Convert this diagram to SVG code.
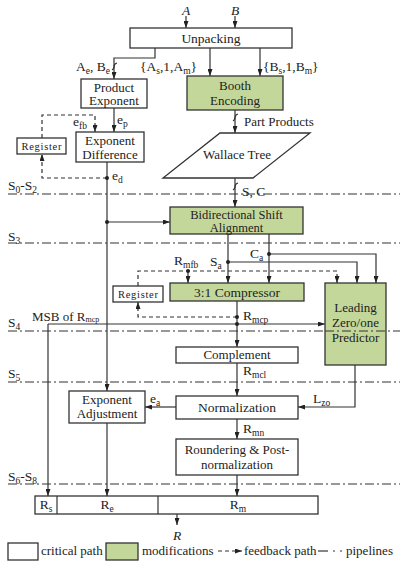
<svg xmlns="http://www.w3.org/2000/svg" width="400" height="570" viewBox="0 0 400 570">
<style>
text{font-family:"Liberation Serif","Times New Roman",serif;font-size:13px;fill:#222}
.c{text-anchor:middle}
.it{font-style:italic}
.sm{font-size:10.5px}
.sub{font-size:9.5px}
.box{fill:#fff;stroke:#333;stroke-width:1.3}
.g{fill:#c4d79b;stroke:#333;stroke-width:1.3}
.ln{fill:none;stroke:#333;stroke-width:1.2}
.ds{fill:none;stroke:#333;stroke-width:1.2;stroke-dasharray:4 3}
.pp{fill:none;stroke:#333;stroke-width:1.1;stroke-dasharray:9 3 2 3}
.dot{fill:#222}
</style>
<defs>
<marker id="ar" viewBox="0 0 7 5" refX="7" refY="2.5" markerWidth="7" markerHeight="5" markerUnits="userSpaceOnUse" orient="auto">
<path d="M0,0 L7,2.5 L0,5 Z" fill="#222"/>
</marker>
</defs>

<g id="pipelines">
<line class="pp" x1="8" y1="194" x2="400" y2="194"/>
<line class="pp" x1="8" y1="243" x2="400" y2="243"/>
<line class="pp" x1="8" y1="382" x2="400" y2="382"/>
<line class="pp" x1="8" y1="484" x2="400" y2="484"/>
<text x="8" y="190" style="font-size:13.5px">S<tspan class="sub" dy="3">0</tspan><tspan dy="-3">-S</tspan><tspan class="sub" dy="3">2</tspan></text>
<text x="8" y="241" style="font-size:13.5px">S<tspan class="sub" dy="3">3</tspan></text>
<text x="8" y="327" style="font-size:13.5px">S<tspan class="sub" dy="3">4</tspan></text>
<text x="8" y="378" style="font-size:13.5px">S<tspan class="sub" dy="3">5</tspan></text>
<text x="8" y="481" style="font-size:13.5px">S<tspan class="sub" dy="3">6</tspan><tspan dy="-3">-S</tspan><tspan class="sub" dy="3">8</tspan></text>
</g>

<g id="connectors">
<line class="ln" x1="186" y1="16" x2="186" y2="28" marker-end="url(#ar)"/>
<line class="ln" x1="235" y1="16" x2="235" y2="28" marker-end="url(#ar)"/>
<polyline class="ln" points="155,48 155,58 114,58 114,79" marker-end="url(#ar)"/>
<line class="ln" x1="210" y1="48" x2="210" y2="76" marker-end="url(#ar)"/>
<line class="ln" x1="260" y1="48" x2="260" y2="76" marker-end="url(#ar)"/>
<line class="ln" x1="114" y1="108" x2="114" y2="132" marker-end="url(#ar)"/>
<polyline class="ds" points="42,138 42,115 95,115 95,132" marker-end="url(#ar)"/>
<line class="ln" x1="107" y1="162" x2="107" y2="391" marker-end="url(#ar)"/>
<polyline class="ds" points="107,178 42,178 42,154" marker-end="url(#ar)"/>
<line class="ln" x1="235" y1="110" x2="235" y2="133" marker-end="url(#ar)"/>
<line class="ln" x1="235" y1="178" x2="235" y2="207" marker-end="url(#ar)"/>
<line class="ln" x1="107" y1="222" x2="170" y2="222" marker-end="url(#ar)"/>
<line class="ln" x1="228" y1="234" x2="228" y2="283" marker-end="url(#ar)"/>
<line class="ln" x1="269" y1="234" x2="269" y2="283" marker-end="url(#ar)"/>
<polyline class="ln" points="228,262 357,262 357,283" marker-end="url(#ar)"/>
<polyline class="ln" points="269,254 376,254 376,283" marker-end="url(#ar)"/>
<polyline class="ds" points="138,286 138,271 337,271 337,283" marker-end="url(#ar)"/>
<line class="ln" x1="188" y1="271" x2="188" y2="283" marker-end="url(#ar)"/>
<line class="ln" x1="237" y1="301" x2="237" y2="347" marker-end="url(#ar)"/>
<polyline class="ds" points="237,317 138,317 138,302" marker-end="url(#ar)"/>
<line class="ln" x1="48" y1="324" x2="325" y2="324" marker-end="url(#ar)"/>
<line class="ln" x1="48" y1="324" x2="48" y2="496" marker-end="url(#ar)"/>
<line class="ln" x1="237" y1="363" x2="237" y2="396" marker-end="url(#ar)"/>
<line class="ln" x1="176" y1="407" x2="145" y2="407" marker-end="url(#ar)"/>
<polyline class="ln" points="355,365 355,407 298,407" marker-end="url(#ar)"/>
<line class="ln" x1="237" y1="419" x2="237" y2="439" marker-end="url(#ar)"/>
<line class="ln" x1="237" y1="475" x2="237" y2="496" marker-end="url(#ar)"/>
<line class="ln" x1="107" y1="423" x2="107" y2="496" marker-end="url(#ar)"/>
<line class="ln" x1="177" y1="514" x2="177" y2="525" marker-end="url(#ar)"/>
<path class="ln" d="M117,63 C112,64 116,68 112,70"/>
<path class="ln" d="M238,114 C233,115 237,119 233,121"/>
<path class="ln" d="M238,183 C233,184 237,188 233,190"/>
<circle class="dot" cx="107" cy="178" r="2"/>
<circle class="dot" cx="107" cy="222" r="2"/>
<circle class="dot" cx="228" cy="262" r="2"/>
<circle class="dot" cx="269" cy="254" r="2"/>
<circle class="dot" cx="188" cy="271" r="2"/>
<circle class="dot" cx="237" cy="317" r="2"/>
<circle class="dot" cx="237" cy="324" r="2"/>
<text x="186" y="15" class="c it" style="font-size:13.5px">A</text>
<text x="235" y="15" class="c it" style="font-size:13.5px">B</text>
<text x="110" y="71" text-anchor="end" style="font-size:13.5px">A<tspan class="sub" dy="3">e</tspan><tspan dy="-3">, B</tspan><tspan class="sub" dy="3">e</tspan></text>
<text x="140" y="71" style="font-size:13.5px">{A<tspan class="sub" dy="3">s</tspan><tspan dy="-3">,1,A</tspan><tspan class="sub" dy="3">m</tspan><tspan dy="-3">}</tspan></text>
<text x="263" y="71" style="font-size:13.5px">{B<tspan class="sub" dy="3">s</tspan><tspan dy="-3">,1,B</tspan><tspan class="sub" dy="3">m</tspan><tspan dy="-3">}</tspan></text>
<text x="117" y="124" style="font-size:13.5px">e<tspan class="sub" dy="3">p</tspan></text>
<text x="73" y="126" style="font-size:13.5px">e<tspan class="sub" dy="3">fb</tspan></text>
<text x="112" y="180" style="font-size:13.5px">e<tspan class="sub" dy="3">d</tspan></text>
<text x="244" y="126">Part Products</text>
<text x="242" y="196" style="font-size:13.5px">S, C</text>
<text x="250" y="258" style="font-size:13.5px">C<tspan class="sub" dy="3">a</tspan></text>
<text x="210" y="266" style="font-size:13.5px">S<tspan class="sub" dy="3">a</tspan></text>
<text x="174" y="265" style="font-size:13.5px">R<tspan class="sub" dy="3">mfb</tspan></text>
<text x="243" y="320" style="font-size:13.5px">R<tspan class="sub" dy="3">mcp</tspan></text>
<text x="32" y="321">MSB of R<tspan class="sub" dy="1" style="font-size:8px">mcp</tspan></text>
<text x="243" y="375" style="font-size:13.5px">R<tspan class="sub" dy="3">mcl</tspan></text>
<text x="150" y="403" style="font-size:13.5px">e<tspan class="sub" dy="3">a</tspan></text>
<text x="313" y="403" style="font-size:13.5px">L<tspan class="sub" dy="3">zo</tspan></text>
<text x="243" y="433" style="font-size:13.5px">R<tspan class="sub" dy="3">mn</tspan></text>
<text x="177" y="540" class="c it" style="font-size:13.5px">R</text>
</g>

<g id="unpacking"><rect class="box" x="130" y="28" width="162" height="20"/><text x="211" y="43" class="c" style="font-size:13.5px">Unpacking</text></g>
<g id="product-exponent"><rect class="box" x="81" y="79" width="66" height="29"/><text x="114" y="91.5" class="c">Product</text><text x="114" y="105" class="c">Exponent</text></g>
<g id="booth"><rect class="g" x="187" y="76" width="96" height="34"/><text x="235" y="90" class="c">Booth</text><text x="235" y="105" class="c">Encoding</text></g>
<g id="exponent-difference"><rect class="box" x="76" y="132" width="68" height="30"/><text x="110" y="145" class="c">Exponent</text><text x="110" y="158.5" class="c">Difference</text></g>
<g id="register1"><rect class="box" x="17" y="138" width="49" height="16"/><text x="41.5" y="150" class="c sm" textLength="40" lengthAdjust="spacing">Register</text></g>
<g id="wallace"><polygon class="box" points="220,133 310,133 253,178 163,178"/><text x="237" y="159" class="c">Wallace Tree</text></g>
<g id="bsa"><rect class="g" x="170" y="207" width="133" height="27"/><text x="236.5" y="218.5" class="c" style="font-size:12.5px">Bidirectional Shift</text><text x="236.5" y="232" class="c" style="font-size:12.5px">Alignment</text></g>
<g id="compressor"><rect class="g" x="170" y="283" width="134" height="18"/><text x="237" y="297" class="c" style="font-size:13.5px">3:1 Compressor</text></g>
<g id="register2"><rect class="box" x="113" y="286" width="50" height="16"/><text x="138" y="298" class="c sm" textLength="40" lengthAdjust="spacing">Register</text></g>
<g id="lzp"><rect class="g" x="325" y="283" width="61" height="82"/><text x="355.5" y="312" class="c">Leading</text><text x="355.5" y="327" class="c">Zero/one</text><text x="355.5" y="342" class="c">Predictor</text></g>
<line class="pp" x1="325" y1="331" x2="400" y2="331"/>
<line class="pp" x1="8" y1="331" x2="325" y2="331"/>
<g id="complement"><rect class="box" x="176" y="347" width="122" height="16"/><text x="237" y="359" class="c">Complement</text></g>
<g id="normalization"><rect class="box" x="176" y="396" width="122" height="23"/><text x="237" y="412" class="c" style="font-size:13.5px">Normalization</text></g>
<g id="exponent-adjustment"><rect class="box" x="69" y="391" width="76" height="32"/><text x="107" y="404" class="c">Exponent</text><text x="107" y="418" class="c">Adjustment</text></g>
<g id="rounding"><rect class="box" x="176" y="439" width="122" height="36"/><text x="237" y="454" class="c">Roundering &amp; Post-</text><text x="237" y="469" class="c">normalization</text></g>
<g id="result"><rect class="box" x="35" y="496" width="283" height="18"/><line class="ln" x1="57" y1="496" x2="57" y2="514"/><line class="ln" x1="158" y1="496" x2="158" y2="514"/>
<text x="46" y="509" class="c" style="font-size:13.5px">R<tspan class="sub" dy="3">s</tspan></text><text x="107" y="509" class="c" style="font-size:13.5px">R<tspan class="sub" dy="3">e</tspan></text><text x="238" y="509" class="c" style="font-size:13.5px">R<tspan class="sub" dy="3">m</tspan></text></g>

<g id="legend">
<rect class="box" x="8" y="543" width="30" height="17"/><text x="41" y="555">critical path</text>
<rect class="g" x="106" y="543" width="32" height="17"/><text x="142" y="555">modifications</text>
<line class="ds" x1="218" y1="551" x2="242" y2="551" marker-end="url(#ar)"/><text x="244" y="555">feedback path</text>
<line class="ln" x1="318" y1="551" x2="328" y2="551"/><line class="ln" x1="333" y1="551" x2="335" y2="551"/><line class="ln" x1="340" y1="551" x2="342" y2="551"/><text x="346" y="555">pipelines</text>
</g>
</svg>
